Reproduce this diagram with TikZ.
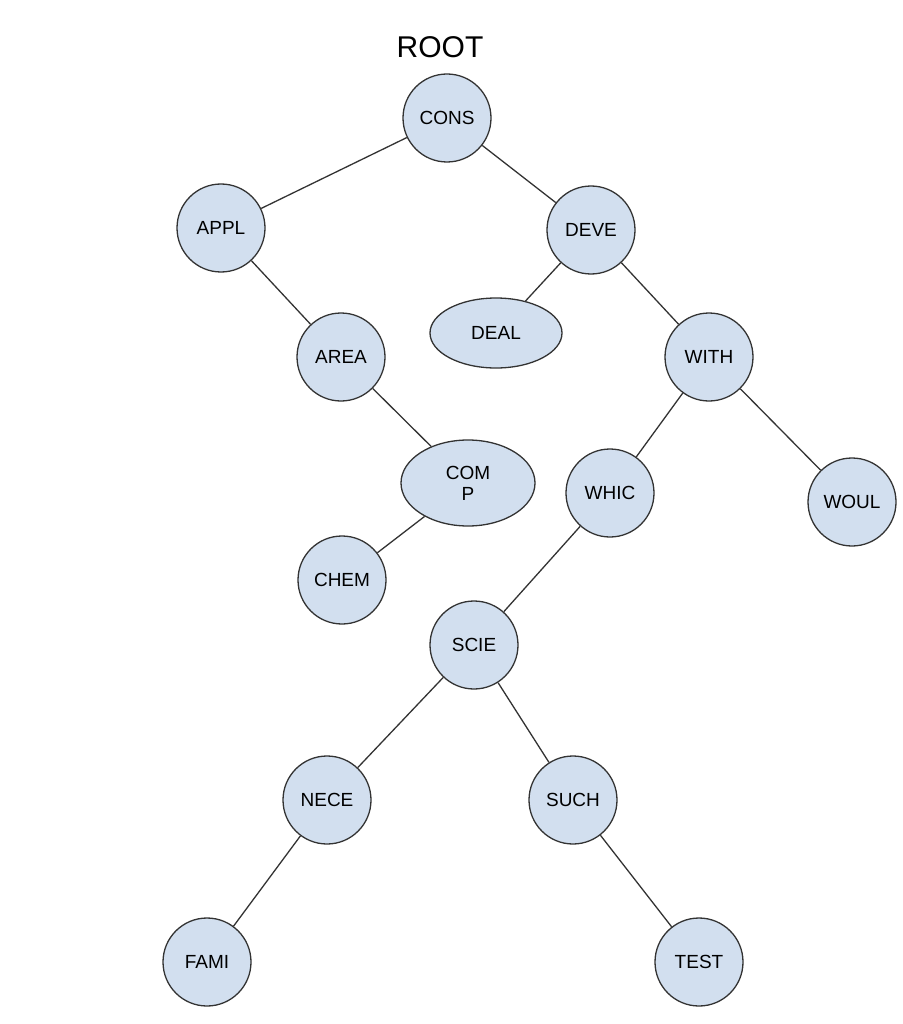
\documentclass[tikz,border=0pt]{standalone}
\usepackage{fontspec}
\setmainfont{Liberation Sans}
\usetikzlibrary{shapes.geometric}
\definecolor{nodefill}{HTML}{D2DFEF}
\definecolor{edge}{HTML}{333333}
\begin{document}
\begin{tikzpicture}[x=1pt,y=-1pt,
  vtx/.style={circle,draw=edge,line width=1.3pt,fill=nodefill,minimum size=88pt,inner sep=0pt,font=\fontsize{19}{21}\selectfont},
  ell/.style={ellipse,draw=edge,line width=1.3pt,fill=nodefill,inner sep=0pt,font=\fontsize{19}{21}\selectfont,align=center},
  conn/.style={draw=edge,line width=1.3pt}]
\useasboundingbox (0,0) rectangle (902,1024);
\fill[white] (0,0) rectangle (902,1024);
\node[font=\fontsize{30}{32}\selectfont] (root) at (440,47) {ROOT};
\node[vtx] (cons) at (447,118) {CONS};
\node[vtx] (appl) at (221,228) {APPL};
\node[vtx] (deve) at (591,230) {DEVE};
\node[ell,minimum width=132pt,minimum height=70pt] (deal) at (496,333) {DEAL};
\node[vtx] (area) at (341,357) {AREA};
\node[vtx] (with) at (709,357) {WITH};
\node[ell,minimum width=134pt,minimum height=86pt] (comp) at (468,483) {COM\\P};
\node[vtx] (whic) at (610,493) {WHIC};
\node[vtx] (woul) at (852,502) {WOUL};
\node[vtx] (chem) at (342,580) {CHEM};
\node[vtx] (scie) at (474,645) {SCIE};
\node[vtx] (nece) at (327,800) {NECE};
\node[vtx] (such) at (573,800) {SUCH};
\node[vtx] (fami) at (207,962) {FAMI};
\node[vtx] (test) at (699,962) {TEST};
\begin{scope}[on background layer/.style={}]
\end{scope}
\draw[conn] (cons) -- (appl);
\draw[conn] (cons) -- (deve);
\draw[conn] (deve) -- (deal);
\draw[conn] (deve) -- (with);
\draw[conn] (appl) -- (area);
\draw[conn] (area) -- (comp);
\draw[conn] (comp) -- (chem);
\draw[conn] (with) -- (whic);
\draw[conn] (with) -- (woul);
\draw[conn] (whic) -- (scie);
\draw[conn] (scie) -- (nece);
\draw[conn] (scie) -- (such);
\draw[conn] (nece) -- (fami);
\draw[conn] (such) -- (test);
\end{tikzpicture}
\end{document}
